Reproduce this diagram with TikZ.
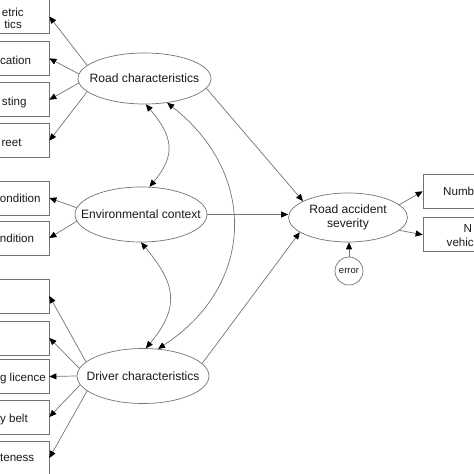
\documentclass[tikz,border=0pt]{standalone}
\usepackage{fontspec}
\setmainfont{Liberation Sans}
\usetikzlibrary{shapes.geometric, arrows.meta}

\begin{document}
\begin{tikzpicture}[x=1pt, y=1pt, >={Triangle[length=7pt, width=6pt, color=black]},
    latent/.style={ellipse, draw=black!55, line width=0.7pt, inner xsep=-14pt, inner ysep=0pt, text=black!90, font=\fontsize{12.1}{14}\selectfont, align=center},
    obs/.style={rectangle, draw=black!55, line width=0.7pt, minimum width=133pt, minimum height=34pt, inner sep=0pt},
    lbl/.style={inner sep=0pt, text=black!90, font=\fontsize{11.6}{13}\selectfont},
    arr/.style={->, draw=black!55, line width=0.7pt},
    covar/.style={<->, draw=black!55, line width=0.7pt}]
    \useasboundingbox (0,0) rectangle (474,474);
    \clip (0,0) rectangle (474,474);

    % latent variables
    \node[latent, minimum width=133pt, minimum height=51pt] (road) at (144.5, 395.5) {Road characteristics};
    \node[latent, minimum width=132pt, minimum height=55pt] (env) at (141, 259.5) {Environmental context};
    \node[latent, minimum width=132pt, minimum height=55pt] (driver) at (143, 98) {Driver characteristics};
    \node[latent, minimum width=119pt, minimum height=49pt] (sev) at (348, 256.5) {Road accident\\severity};
    \node[circle, draw=black!55, line width=0.7pt, minimum size=28pt, inner sep=0pt, text=black!90, font=\fontsize{9.5}{11}\selectfont] (err) at (349, 203) {error};

    % observed variables (cut off by the picture's edge)
    \node[obs] (geom) at (-17.5, 457.5) {};
    \node[obs] (loc) at (-17.5, 415.6) {};
    \node[obs] (post) at (-17.5, 374.3) {};
    \node[obs] (street) at (-17.5, 333.3) {};
    \node[obs] (surf) at (-17.5, 276) {};
    \node[obs] (lum) at (-17.5, 236) {};
    \node[obs] (age) at (-17.5, 178) {};
    \node[obs] (sex) at (-17.5, 136) {};
    \node[obs] (lic) at (-17.5, 97.5) {};
    \node[obs] (belt) at (-17.5, 57) {};
    \node[obs] (speed) at (-17.5, 16) {};
    \node[obs] (vict) at (489.5, 282.7) {};
    \node[obs] (veh) at (489.5, 239.2) {};

    % visible parts of their texts
    \node[lbl, anchor=base east] (geom-txt1) at (24, 457.2) {etric};
    \node[lbl, anchor=base east] (geom-txt2) at (22, 445.5) {tics};
    \node[lbl, anchor=base east] (loc-txt) at (31.2, 409.8) {cation};
    \node[lbl, anchor=base east] (post-txt) at (26.7, 368.8) {sting};
    \node[lbl, anchor=base east] (street-txt) at (21.7, 327.8) {reet};
    \node[lbl, anchor=base east] (surf-txt) at (40.8, 271.2) {ondition};
    \node[lbl, anchor=base east] (lum-txt) at (34.3, 231.2) {ndition};
    \node[lbl, anchor=base east] (lic-txt) at (46, 92.2) {g licence};
    \node[lbl, anchor=base east] (belt-txt) at (28, 51.2) {y belt};
    \node[lbl, anchor=base east] (speed-txt) at (34.5, 12.2) {teness};
    \node[lbl, anchor=base west] (vict-txt) at (443, 278.5) {Numb};
    \node[lbl, anchor=base west] (veh-txt1) at (463.5, 241.5) {N};
    \node[lbl, anchor=base west] (veh-txt2) at (446.5, 227.5) {vehic};

    % measurement arrows
    \foreach \a/\b in {167/geom, 176/loc, 184/post, 193/street} {
        \draw[arr] (road.\a) -- (\b.east);
    };
    \foreach \a/\b in {174/surf, 186/lum} {
        \draw[arr] (env.\a) -- (\b.east);
    };
    \foreach \a/\b in {166/age, 173/sex, 180/lic, 188/belt, 195/speed} {
        \draw[arr] (driver.\a) -- (\b.east);
    };
    \draw[arr] (sev.14) -- (vict.west);
    \draw[arr] (sev.-14) -- (veh.west);

    % structural paths
    \draw[arr] (road.-9) -- (sev.160);
    \draw[arr] (env.east) -- (env.east -| sev.west);
    \draw[arr] (driver.12) -- (sev.197);
    \draw[arr] (err.north) -- (err.north |- sev.south);

    % covariances
    \draw[covar] (road.273) to[out=-50, in=50, looseness=1.3] (env.73);
    \draw[covar] (env.270) to[out=-50, in=50, looseness=1.3] (driver.84);
    \draw[covar] (road.-47) to[out=-38, in=33, looseness=1.2] (driver.61);
\end{tikzpicture}
\end{document}
